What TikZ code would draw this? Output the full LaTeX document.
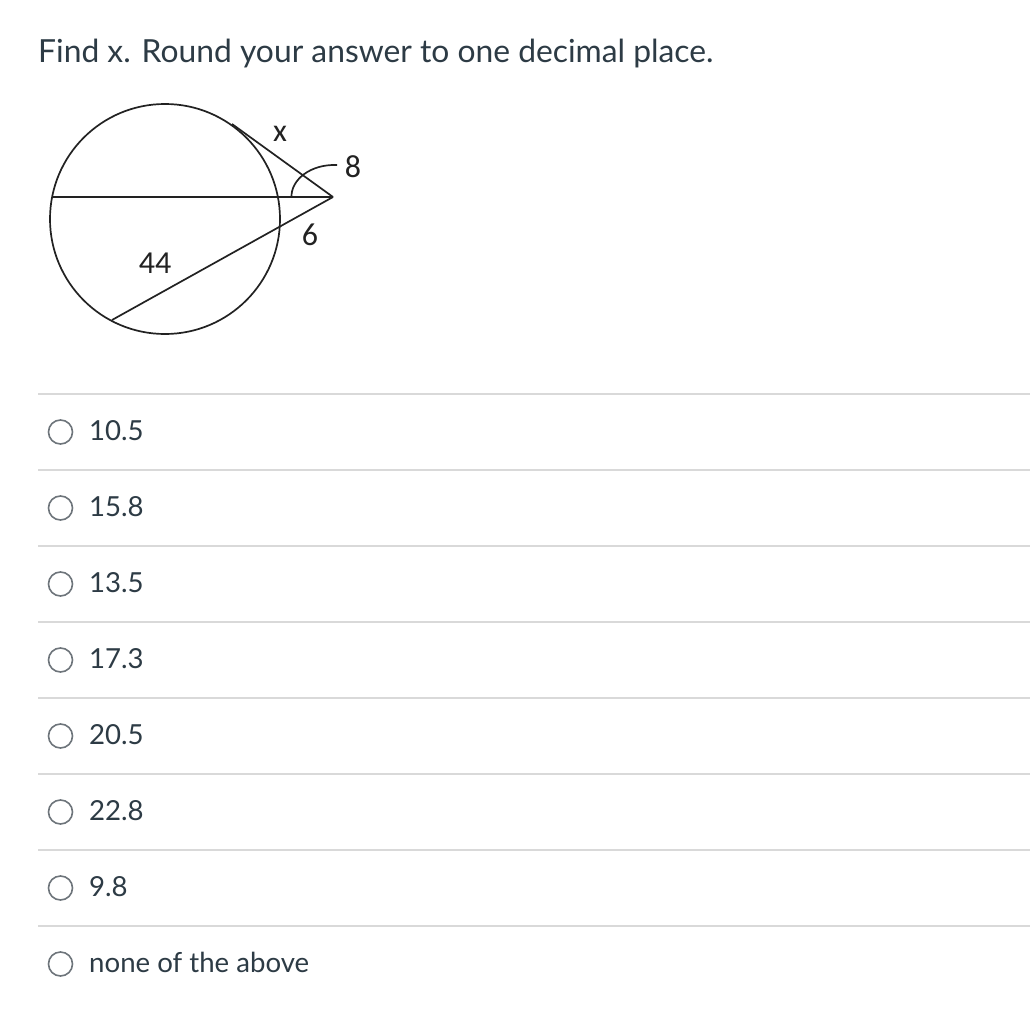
\documentclass[tikz,border=0pt]{standalone}
\usepackage{fontspec}
\setmainfont{Lato}
\newfontfamily\figfont{Carlito}
\definecolor{txt}{HTML}{2D3B45}
\definecolor{sep}{HTML}{D9D9D9}
\definecolor{radio}{HTML}{6E757B}
\definecolor{geo}{HTML}{222222}
\begin{document}
\begin{tikzpicture}[x=1pt,y=-1pt,
  optext/.style={anchor=base west,inner sep=0pt,text=txt,font=\fontsize{27.6}{32}\selectfont},
  radiobtn/.style={circle,draw=radio,line width=1.6pt,minimum size=24pt,inner sep=0pt},
  seprule/.style={draw=sep,line width=1.8pt},
  geoline/.style={draw=geo,line width=1.7pt},
  lbl/.style={inner sep=0pt,text=geo,font=\figfont\fontsize{32}{36}\selectfont}]
\useasboundingbox[fill=white] (0,0) rectangle (1030,1030);
\node[anchor=base west,inner sep=0pt,text=txt,font=\fontsize{31.8}{36}\selectfont] (title) at (38,63) {Find x. Round your answer to one decimal place.};
% figure
\node[circle,geoline,minimum size=230pt,inner sep=0pt] (circ) at (165,219) {};
\coordinate (A) at (333,197);
\coordinate (L) at (53,197);
\coordinate (T) at (232,124);
\coordinate (S) at (112,320);
\draw[geoline] (L) -- (A);
\draw[geoline] (T) -- (A);
\draw[geoline] (S) -- (A);
\coordinate (arcS) at (291.5,197);
\coordinate (arcE) at (337,165);
\draw[geoline] (arcS) .. controls (291,180) and (310,164) .. (arcE);
\node[lbl] (lx) at (280,134) {x};
\node[lbl] (l8) at (353,167) {8};
\node[lbl] (l6) at (310,235) {6};
\node[lbl] (l44) at (155,263) {44};
% options
\foreach \i/\t in {0/10.5,1/15.8,2/13.5,3/17.3,4/20.5,5/22.8,6/9.8,7/none of the above}{
  \pgfmathsetmacro{\yb}{440+76*\i}
  \pgfmathsetmacro{\ys}{394+76*\i}
  \path[seprule] (38,\ys) -- (1030,\ys);
  \node[radiobtn] (r\i) at (60.5,\yb-8) {};
  \node[optext] (o\i) at (89,\yb) {\t};
}
\end{tikzpicture}
\end{document}
